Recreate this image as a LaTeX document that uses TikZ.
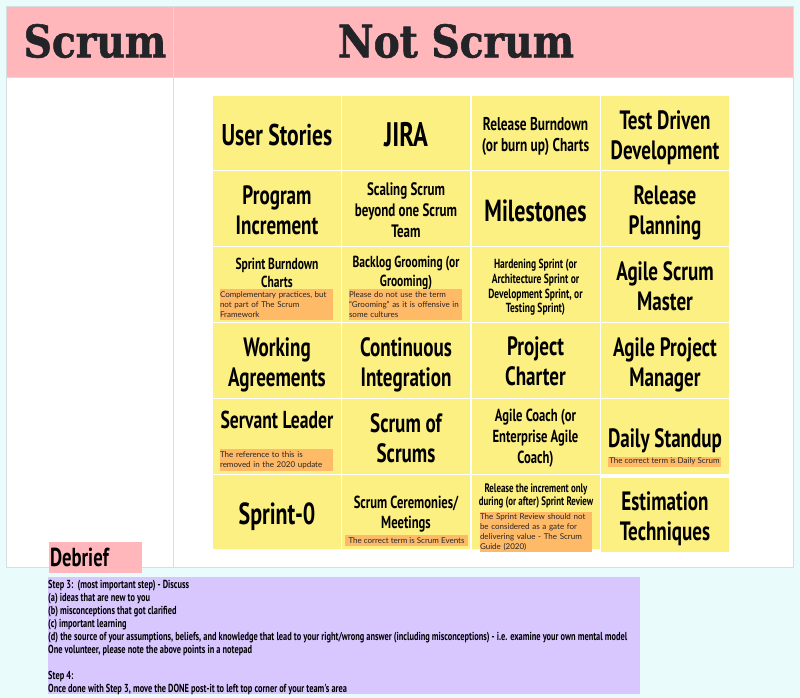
\documentclass[tikz,border=0pt]{standalone}
\usepackage{fontspec}
\setmainfont{Lato}
\newfontfamily\handfont[FakeStretch=0.72,BoldFont={PT Sans Bold}]{PT Sans}
\newfontfamily\slabfont[FakeStretch=0.87,BoldFeatures={FakeBold=1.2}]{DejaVu Serif}
\usetikzlibrary{positioning}
\definecolor{pagebg}{HTML}{EAFBFC}
\definecolor{framegrey}{HTML}{D6DFE0}
\definecolor{headpink}{HTML}{FFB7BB}
\definecolor{sticky}{HTML}{FDF083}
\definecolor{noteorange}{HTML}{FFBA68}
\definecolor{stepviolet}{HTML}{D8C7FF}
\definecolor{inkdark}{HTML}{222428}
\newcommand{\hand}[2]{\handfont\bfseries\fontsize{#1}{#2}\selectfont}
\tikzset{
	head/.style={fill=headpink,draw=framegrey,line width=0.6pt,minimum height=71pt,inner sep=0pt},
	headtext/.style={font=\slabfont\bfseries\fontsize{45}{50}\selectfont,text=inkdark,inner sep=0pt},
	cell/.style={fill=sticky,minimum width=128pt,minimum height=74.5pt,inner sep=0pt},
	hugetext/.style={font=\hand{30.5}{36},align=center,inner sep=0pt},
	bigtext/.style={font=\hand{26.5}{30},align=center,inner sep=0pt},
	smalltext/.style={font=\hand{16}{18.5},align=center,inner sep=0pt},
	note/.style={fill=noteorange,inner sep=0pt,text=black!85,font=\fontsize{8}{10}\selectfont,align=left}
}
\begin{document}
\begin{tikzpicture}[x=1pt,y=-1pt]
	\fill[pagebg] (0,0) rectangle (800,698);
	\useasboundingbox (0,0) rectangle (800,698);
	% board
	\fill[white,draw=framegrey,line width=0.6pt] (6.5,6.5) rectangle (793.5,567);
	\draw[framegrey,line width=0.6pt] (173.5,77) -- (173.5,567);
	\node[head,minimum width=167pt] (scrumhead) at (90,41.5) {};
	\node[head,minimum width=620pt] (notscrumhead) at (483.5,41.5) {};
	\node[headtext] (scrum) at (95,41) {Scrum};
	\node[headtext] (notscrum) at (456,41) {Not Scrum};
	% sticky notes
	\foreach \cx/\x in {a/277,b/406,c/535.5}
		\foreach \cy/\y in {1/133,2/208.5,3/284.5,4/360.5,5/436.5,6/512}
			\node[cell] (cell\cx\cy) at (\x,\y) {};
	\foreach \cy/\y in {1/133,2/208.5,3/284.5,4/360.5,5/436.5,6/515}
		\node[cell] (celld\cy) at (665,\y) {};
	% first row
	\node[bigtext,font=\hand{30}{34}] (userstories) at (277,135) {User Stories};
	\node[bigtext,font=\hand{34}{38}] (jira) at (406,135) {JIRA};
	\node[smalltext,font=\hand{18.5}{21}] (burnup) at (535.5,136) {Release Burndown\\(or burn up) Charts};
	\node[bigtext] (tdd) at (665,137.5) {Test Driven\\Development};
	% second row
	\node[bigtext] (increment) at (277,210.5) {Program\\Increment};
	\node[smalltext,font=\hand{18}{21}] (scaling) at (406,210.5) {Scaling Scrum\\beyond one Scrum\\Team};
	\node[hugetext] (milestones) at (535.5,211) {Milestones};
	\node[bigtext] (planning) at (665,213) {Release\\Planning};
	% third row
	\node[smalltext] (burndown) at (277,273) {Sprint Burndown\\Charts};
	\node[note,text width=113pt,minimum height=31pt] (burndownnote) at (276.5,304.5) {Complementary practices, but\\not part of The Scrum\\Framework};
	\node[smalltext] (grooming) at (406,273) {Backlog Grooming (or\\Grooming)};
	\node[note,text width=113pt,minimum height=31pt] (groomingnote) at (405.5,304.5) {Please do not use the term\\``Grooming'' as it is offensive in\\some cultures};
	\node[smalltext,font=\hand{13.2}{14.7}] (hardening) at (535.5,287.5) {Hardening Sprint (or\\Architecture Sprint or\\Development Sprint, or\\Testing Sprint)};
	\node[bigtext] (smaster) at (665,286.5) {Agile Scrum\\Master};
	% fourth row
	\node[bigtext] (agreements) at (277,364.5) {Working\\Agreements};
	\node[bigtext] (integration) at (406,364.5) {Continuous\\Integration};
	\node[bigtext] (charter) at (535.5,361.5) {Project\\Charter};
	\node[bigtext] (manager) at (665,364.5) {Agile Project\\Manager};
	% fifth row
	\node[bigtext,font=\hand{24.5}{28}] (servant) at (277,420) {Servant Leader};
	\node[note,text width=113pt,minimum height=22pt] (servantnote) at (276.5,460) {The reference to this is\\removed in the 2020 update};
	\node[bigtext] (sos) at (406,438) {Scrum of\\Scrums};
	\node[smalltext,font=\hand{17.5}{21}] (coach) at (535.5,438.5) {Agile Coach (or\\Enterprise Agile\\Coach)};
	\node[bigtext] (standup) at (665,441) {Daily Standup};
	\node[note,minimum width=113pt,minimum height=10pt,align=center] (standupnote) at (664.5,461.5) {The correct term is Daily Scrum};
	% last row
	\node[hugetext] (sprintzero) at (277,516.5) {Sprint-0};
	\node[smalltext,font=\hand{17.5}{20}] (ceremonies) at (406,514) {Scrum Ceremonies/\\Meetings};
	\node[note,minimum width=123pt,minimum height=11pt,align=center] (ceremoniesnote) at (406.5,540.5) {The correct term is Scrum Events};
	\node[smalltext,font=\hand{12.3}{13.5}] (release) at (536,496) {Release the increment only\\during (or after) Sprint Review};
	\node[note,text width=112pt,minimum height=40pt] (releasenote) at (536,532) {The Sprint Review should not\\be considered as a gate for\\delivering value - The Scrum\\Guide (2020)};
	\node[bigtext] (estimation) at (665,519) {Estimation\\Techniques};
	% debrief
	\node[fill=headpink,minimum width=93pt,minimum height=31pt,inner sep=0pt] (debriefbox) at (95.5,557.5) {};
	\node[font=\hand{26}{30},right=1pt of debriefbox.west,inner sep=0pt] (debrief) {Debrief};
	\fill[stepviolet] (48,577) rectangle (640,694);
	\node[anchor=north west,inner sep=0pt,align=left,font=\hand{11.6}{12.95}] (steps) at (48,580) {Step 3:\ \ (most important step) - Discuss\\
		(a) ideas that are new to you\\
		(b) misconceptions that got clarified\\
		(c) important learning\\
		(d) the source of your assumptions, beliefs, and knowledge that lead to your right/wrong answer (including misconceptions) - i.e. examine your own mental model\\
		One volunteer, please note the above points in a notepad\\[12.95pt]
		Step 4:\\
		Once done with Step 3, move the DONE post-it to left top corner of your team's area};
\end{tikzpicture}
\end{document}
